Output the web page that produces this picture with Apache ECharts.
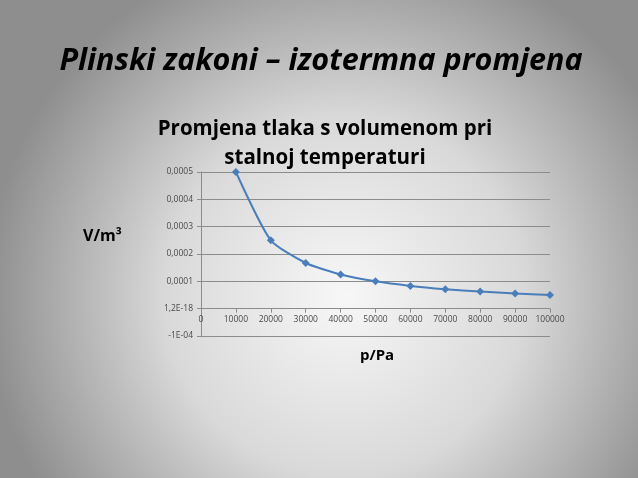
<!DOCTYPE html>
<html><head><meta charset="utf-8">
<script src="https://cdn.jsdelivr.net/npm/echarts@6/dist/echarts.min.js"></script>
<style>html,body{margin:0;padding:0;}#c{width:638px;height:478px;}</style>
</head><body><div id="c"></div>
<script>
var pressure = [10000, 20000, 30000, 40000, 50000, 60000, 70000, 80000, 90000, 100000];
var volume = [0.0005, 0.00025, 0.000167, 0.000125, 0.0001, 0.0000833, 0.0000714, 0.0000625, 0.0000556, 0.00005];
var yTickValues = [-0.0001, 0, 0.0001, 0.0002, 0.0003, 0.0004, 0.0005];
var yTickLabels = ['-1E-04', '1,2E-18', '0,0001', '0,0002', '0,0003', '0,0004', '0,0005'];
var xTickLabels = ['0','10000','20000','30000','40000','50000','60000','70000','80000','90000','100000'];

var chart = echarts.init(document.getElementById('c'));
var font = '"Open Sans", "Noto Sans", sans-serif';
var gridTop = 172, gridBottom = 142, H = 478;
var plotH = H - gridTop - gridBottom;
chart.setOption({
  backgroundColor: {
    type: 'radial', x: 0.54, y: 0.62, r: 0.75,
    colorStops: [{offset: 0, color: '#f7f7f7'}, {offset: 0.5, color: '#d9d9d9'}, {offset: 1, color: '#8e8e8e'}]
  },
  title: [
    {text: 'Plinski zakoni – izotermna promjena', left: 316, textAlign: 'center', top: 41,
     textStyle: {fontFamily: font, fontSize: 30.5, fontWeight: 'bold', fontStyle: 'italic', color: '#000'}},
    {text: 'Promjena tlaka s volumenom pri\nstalnoj temperaturi', left: 320, textAlign: 'center', top: 110,
     textStyle: {fontFamily: font, fontSize: 20.5, fontWeight: 'bold', color: '#000', lineHeight: 29}},
    {text: 'V/m³', left: 78, top: 223,
     textStyle: {fontFamily: font, fontSize: 16, fontWeight: 'bold', color: '#000'}},
    {text: 'p/Pa', left: 355, top: 343,
     textStyle: {fontFamily: font, fontSize: 15, fontWeight: 'bold', color: '#000'}}
  ],
  grid: {left: 201, right: 88, top: gridTop, bottom: gridBottom, containLabel: false},
  xAxis: {
    type: 'value', min: 0, max: 100000, interval: 10000,
    position: 'bottom', offset: -plotH / 6,
    axisLine: {onZero: false, lineStyle: {color: '#8c8c8c', width: 1}},
    axisTick: {show: true, length: 4, lineStyle: {color: '#8c8c8c'}},
    axisLabel: {margin: 6, fontFamily: font, fontSize: 8.5, color: '#4a4a4a',
      formatter: function(v){ return xTickLabels[Math.round(v/10000)]; }},
    splitLine: {show: false}
  },
  yAxis: {
    type: 'value', min: -0.0001, max: 0.0005, interval: 0.0001,
    axisLine: {show: true, onZero: false, lineStyle: {color: '#8c8c8c', width: 1}},
    axisTick: {show: true, length: 4, lineStyle: {color: '#8c8c8c'}},
    axisLabel: {margin: 8, fontFamily: font, fontSize: 8.5, color: '#4a4a4a',
      formatter: function(v){
        var i = Math.round(v/0.0001) + 1;
        return yTickLabels[i];
      }},
    splitLine: {show: true, lineStyle: {color: '#8c8c8c', width: 1}}
  },
  series: [{
    type: 'line', data: pressure.map(function(p, i){ return [p, volume[i]]; }),
    smooth: 0.2, symbol: 'diamond', symbolSize: 8,
    lineStyle: {color: '#4a7ebb', width: 2},
    itemStyle: {color: '#4a7ebb'}
  }]
});
</script></body></html>
